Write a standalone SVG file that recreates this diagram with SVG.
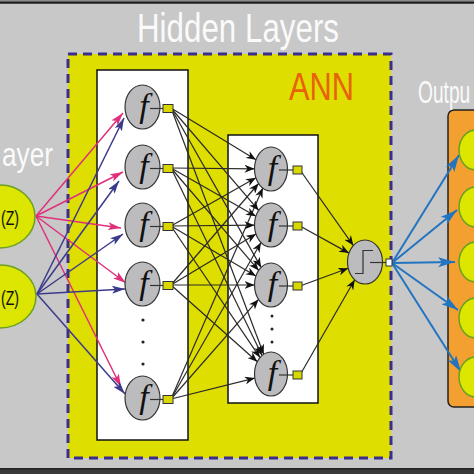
<svg xmlns="http://www.w3.org/2000/svg" width="474" height="474" viewBox="0 0 474 474">
<style>
.nd{fill:#bcbcbe;stroke:#333;stroke-width:1.2}
.fx{font-family:"Liberation Serif","DejaVu Serif",serif;font-style:italic;font-size:34px;fill:#111;text-anchor:middle}
.sq{fill:#d8d800;stroke:#333;stroke-width:1}
.lk{stroke:#2a2a2a;stroke-width:1.2;fill:none;marker-end:url(#ak)}
.lp{stroke:#e0307a;stroke-width:1.5;fill:none;marker-end:url(#ap)}
.ln{stroke:#3c3a8c;stroke-width:1.5;fill:none;marker-end:url(#an)}
.lb{stroke:#2274c0;stroke-width:2;fill:none;marker-end:url(#ab)}
.st{stroke:#333;stroke-width:1.2;fill:none}
.dot{fill:#222}
.on{fill:#dce600;stroke:#6aa020;stroke-width:1.5}
.lbl{font-family:"Liberation Sans",Arial,sans-serif;fill:#fafafa}
.zt{font-family:"Liberation Sans",Arial,sans-serif;font-size:21px;fill:#111}
</style>
<defs>
<marker id="ak" markerUnits="userSpaceOnUse" markerWidth="10" markerHeight="8" refX="10" refY="4" orient="auto"><path d="M0,0 L10,4 L0,8 L3,4 z" fill="#111"/></marker>
<marker id="ap" markerUnits="userSpaceOnUse" markerWidth="13" markerHeight="8" refX="13" refY="4" orient="auto"><path d="M0,0 L13,4 L0,8 L3,4 z" fill="#e0307a"/></marker>
<marker id="an" markerUnits="userSpaceOnUse" markerWidth="13" markerHeight="8" refX="13" refY="4" orient="auto"><path d="M0,0 L13,4 L0,8 L3,4 z" fill="#3c3a8c"/></marker>
<marker id="ab" markerUnits="userSpaceOnUse" markerWidth="17" markerHeight="10" refX="17" refY="5" orient="auto"><path d="M0,0 L17,5 L0,10 L4,5 z" fill="#2274c0"/></marker>
</defs>
<rect x="0" y="0" width="474" height="474" fill="#c8c8c8"/>
<rect x="0" y="0" width="474" height="1.5" fill="#8a8a8a"/>
<rect x="0" y="1.5" width="474" height="2.2" fill="#1a1a1a"/>
<rect x="0" y="468" width="474" height="6" fill="#3a3a3a"/>
<rect x="0" y="468" width="474" height="1.5" fill="#222"/>
<g id="ann-box">
<rect x="68" y="54" width="323" height="404" fill="#dede00" stroke="#3a2d8c" stroke-width="3" stroke-dasharray="9 6"/>
</g>
<g id="hidden-col1"><rect x="97" y="70" width="91" height="370" fill="#fff" stroke="#111" stroke-width="1.5"/></g>
<g id="hidden-col2"><rect x="228" y="135" width="90" height="268" fill="#fff" stroke="#111" stroke-width="1.5"/></g>
<g id="output-panel"><rect x="448" y="110" width="40" height="297" rx="6" fill="#f4a030" stroke="#222" stroke-width="1.5"/></g>
<g id="input-nodes">
<g id="in1"><ellipse cx="0" cy="216.5" rx="35" ry="31.5" class="on"/><text x="1" y="224.5" class="zt" textLength="18" lengthAdjust="spacingAndGlyphs">(Z)</text></g>
<g id="in2"><ellipse cx="0" cy="296.5" rx="36" ry="31.5" class="on"/><text x="1" y="304.5" class="zt" textLength="18" lengthAdjust="spacingAndGlyphs">(Z)</text></g>
</g>
<g id="connectors">
<line class="lp" x1="36" y1="216" x2="123" y2="113"/>
<line class="lp" x1="36" y1="216" x2="123" y2="172"/>
<line class="lp" x1="36" y1="216" x2="121" y2="228"/>
<line class="lp" x1="36" y1="216" x2="126" y2="283"/>
<line class="lp" x1="36" y1="216" x2="121" y2="387"/>
<line class="ln" x1="37" y1="294" x2="124" y2="118"/>
<line class="ln" x1="37" y1="294" x2="119" y2="181"/>
<line class="ln" x1="37" y1="294" x2="123" y2="234"/>
<line class="ln" x1="37" y1="294" x2="125" y2="289"/>
<line class="ln" x1="37" y1="294" x2="125" y2="394"/>
<line class="lk" x1="171" y1="108" x2="256.0" y2="159.8"/>
<line class="lk" x1="171" y1="168" x2="254.5" y2="168.8"/>
<line class="lk" x1="171" y1="226" x2="255.9" y2="177.7"/>
<line class="lk" x1="171" y1="285" x2="258.6" y2="183.5"/>
<line class="lk" x1="171" y1="399" x2="262.8" y2="187.9"/>
<line class="lk" x1="171" y1="108" x2="258.7" y2="210.4"/>
<line class="lk" x1="171" y1="168" x2="255.9" y2="216.3"/>
<line class="lk" x1="171" y1="226" x2="254.5" y2="225.2"/>
<line class="lk" x1="171" y1="285" x2="256.0" y2="234.1"/>
<line class="lk" x1="171" y1="399" x2="261.0" y2="242.5"/>
<line class="lk" x1="171" y1="108" x2="261.1" y2="267.4"/>
<line class="lk" x1="171" y1="168" x2="258.7" y2="270.4"/>
<line class="lk" x1="171" y1="226" x2="255.9" y2="276.0"/>
<line class="lk" x1="171" y1="285" x2="254.5" y2="285"/>
<line class="lk" x1="171" y1="399" x2="258.5" y2="299.4"/>
<line class="lk" x1="171" y1="108" x2="263.7" y2="354.3"/>
<line class="lk" x1="171" y1="168" x2="262.1" y2="355.5"/>
<line class="lk" x1="171" y1="226" x2="260.0" y2="357.6"/>
<line class="lk" x1="171" y1="285" x2="257.3" y2="361.7"/>
<line class="lk" x1="171" y1="399" x2="254.8" y2="378.1"/>
<line class="lk" x1="300" y1="170" x2="353.4" y2="245.6"/>
<line class="lk" x1="300" y1="226" x2="349.0" y2="253.1"/>
<line class="lk" x1="300" y1="286" x2="348.2" y2="268.2"/>
<line class="lk" x1="300" y1="375" x2="354.7" y2="279.8"/>
<line class="lb" x1="392" y1="263" x2="459" y2="155"/>
<line class="lb" x1="392" y1="263" x2="457" y2="210"/>
<line class="lb" x1="392" y1="263" x2="455" y2="262"/>
<line class="lb" x1="392" y1="263" x2="458" y2="310"/>
<line class="lb" x1="392" y1="263" x2="461" y2="372"/>
</g>
<g id="h1n1"><ellipse cx="142.5" cy="107" rx="17.5" ry="22" class="nd"/><text x="144" y="117" class="fx">f</text><line x1="150" y1="108.5" x2="163" y2="108.5" class="st"/><rect x="163" y="104.5" width="10" height="8" class="sq"/></g>
<g id="h1n2"><ellipse cx="142.5" cy="167" rx="17.5" ry="22" class="nd"/><text x="144" y="177" class="fx">f</text><line x1="150" y1="168.5" x2="163" y2="168.5" class="st"/><rect x="163" y="164.5" width="10" height="8" class="sq"/></g>
<g id="h1n3"><ellipse cx="142.5" cy="225" rx="17.5" ry="22" class="nd"/><text x="144" y="235" class="fx">f</text><line x1="150" y1="226.5" x2="163" y2="226.5" class="st"/><rect x="163" y="222.5" width="10" height="8" class="sq"/></g>
<g id="h1n4"><ellipse cx="142.5" cy="284" rx="17.5" ry="22" class="nd"/><text x="144" y="294" class="fx">f</text><line x1="150" y1="285.5" x2="163" y2="285.5" class="st"/><rect x="163" y="281.5" width="10" height="8" class="sq"/></g>
<g id="h1n5"><ellipse cx="142.5" cy="398" rx="17.5" ry="22" class="nd"/><text x="144" y="408" class="fx">f</text><line x1="150" y1="399.5" x2="163" y2="399.5" class="st"/><rect x="163" y="395.5" width="10" height="8" class="sq"/></g>
<g id="h1dots"><circle cx="143" cy="320" r="1.6" class="dot"/><circle cx="143" cy="342" r="1.6" class="dot"/><circle cx="143" cy="364" r="1.6" class="dot"/></g>
<g id="h2n1"><ellipse cx="271" cy="169" rx="16.5" ry="22" class="nd"/><text x="272.5" y="179" class="fx">f</text><line x1="279" y1="170" x2="293" y2="170" class="st"/><rect x="293" y="166" width="9" height="8" class="sq"/></g>
<g id="h2n2"><ellipse cx="271" cy="225" rx="16.5" ry="22" class="nd"/><text x="272.5" y="235" class="fx">f</text><line x1="279" y1="226" x2="293" y2="226" class="st"/><rect x="293" y="222" width="9" height="8" class="sq"/></g>
<g id="h2n3"><ellipse cx="271" cy="285" rx="16.5" ry="22" class="nd"/><text x="272.5" y="295" class="fx">f</text><line x1="279" y1="286" x2="293" y2="286" class="st"/><rect x="293" y="282" width="9" height="8" class="sq"/></g>
<g id="h2n4"><ellipse cx="271" cy="374" rx="16.5" ry="22" class="nd"/><text x="272.5" y="384" class="fx">f</text><line x1="279" y1="375" x2="293" y2="375" class="st"/><rect x="293" y="371" width="9" height="8" class="sq"/></g>
<g id="h2dots"><circle cx="272" cy="316" r="1.5" class="dot"/><circle cx="272" cy="329" r="1.5" class="dot"/><circle cx="272" cy="342" r="1.5" class="dot"/></g>
<g id="step"><ellipse cx="365" cy="262" rx="17.5" ry="22" class="nd"/><path d="M355,273.5 H363 V250.5 H373" class="st"/><line x1="370" y1="262.5" x2="386" y2="262.5" class="st"/><rect x="386" y="259" width="6" height="7" fill="#fff" stroke="#333" stroke-width="1"/></g>
<g id="output-nodes">
<ellipse cx="476" cy="150" rx="17" ry="20" class="on"/>
<ellipse cx="476" cy="207" rx="17" ry="20" class="on"/>
<ellipse cx="476" cy="262" rx="17" ry="20" class="on"/>
<ellipse cx="476" cy="318" rx="17" ry="20" class="on"/>
<ellipse cx="476" cy="377" rx="17" ry="20" class="on"/>
</g>
<g id="labels">
<text x="137" y="42" class="lbl" font-size="40" textLength="202" lengthAdjust="spacingAndGlyphs">Hidden Layers</text>
<text x="289" y="100" font-family="Liberation Sans,Arial,sans-serif" font-size="39" fill="#e8620c" textLength="65" lengthAdjust="spacingAndGlyphs">ANN</text>
<text x="2" y="166" class="lbl" font-size="33" textLength="51" lengthAdjust="spacingAndGlyphs">ayer</text>
<text transform="translate(418,103) scale(0.6,1)" x="0" y="0" class="lbl" font-size="32">Outpu</text>
</g>
</svg>
